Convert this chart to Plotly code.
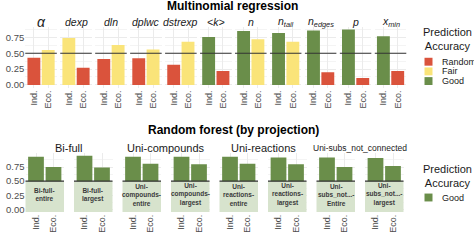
import plotly.graph_objects as go

# ---------------- data ----------------
top_facets = ["<i>α</i>", "<i>dexp</i>", "<i>dln</i>", "<i>dplwc</i>", "<i>dstrexp</i>",
              "<i>&lt;k&gt;</i>", "<i>n</i>", "<i>n<sub>tail</sub></i>", "<i>n<sub>edges</sub></i>",
              "<i>p</i>", "<i>x<sub>min</sub></i>"]
top_ind = [0.43, 0.74, 0.41, 0.42, 0.32, 0.755, 0.85, 0.82, 0.86, 0.875, 0.77]
top_eco = [0.55, 0.27, 0.63, 0.56, 0.68, 0.22, 0.72, 0.68, 0.20, 0.11, 0.22]
top_ind_class = ["Random", "Fair", "Random", "Random", "Random", "Good", "Good", "Good", "Good", "Good", "Good"]
top_eco_class = ["Fair", "Random", "Fair", "Fair", "Fair", "Random", "Fair", "Fair", "Random", "Random", "Random"]

rf_groups = ["Bi-full", "Uni-compounds", "Uni-reactions", "Uni-subs_not_connected"]
rf_labels = ["Bi-full-<br>entire", "Bi-full-<br>largest",
             "Uni-<br>compounds-<br>entire", "Uni-<br>compounds-<br>largest",
             "Uni-<br>reactions-<br>entire", "Uni-<br>reactions-<br>largest",
             "Uni-<br>subs_not...-<br>Entire", "Uni-<br>subs_not...-<br>largest"]
rf_ind = [0.93, 0.95, 0.93, 0.93, 0.93, 0.92, 0.92, 0.91]
rf_eco = [0.75, 0.74, 0.81, 0.80, 0.81, 0.80, 0.75, 0.77]
rf_class = ["Good"] * 8

x_cats = ["Ind.", "Eco."]
classes = ["Random", "Fair", "Good"]
class_colors = {"Random": "#DA533C", "Fair": "#FAE479", "Good": "#6A8E4A"}

# ---------------- layout helpers ----------------
W, H = 474, 240
def px_x(p): return p / W
def px_y(p): return 1 - p / H

FONT = "Liberation Sans, Arial, sans-serif"
GRID = "#EBEBEB"
TICKC = "#4D4D4D"

fig = go.Figure()
layout = dict(width=W, height=H, margin=dict(l=0, r=0, t=0, b=0),
              paper_bgcolor="white", plot_bgcolor="white", showlegend=False,
              font=dict(family=FONT, color="#222"), bargap=0.1)
shapes, annots = [], []

top_range = [-0.044, 0.92]
bot_range = [-0.0475, 0.9975]
top_dom_y = [px_y(88.8), px_y(27)]
bot_dom_y = [px_y(214.7), px_y(155)]

def add_facet(idx, x0, w, ydom, yrng, ind, eco, cls, first):
    sfx = "" if idx == 1 else str(idx)
    fig.add_trace(go.Bar(x=x_cats, y=[ind, eco],
                         marker=dict(color=[class_colors[c] for c in cls], line=dict(width=0)),
                         xaxis="x" + sfx, yaxis="y" + sfx, hoverinfo="skip"))
    layout["xaxis" + sfx] = dict(domain=[px_x(x0), px_x(x0 + w)], anchor="y" + sfx,
                                 type="category", categoryarray=x_cats, range=[-0.6, 1.6],
                                 tickangle=-90, tickfont=dict(size=9, color=TICKC, family=FONT),
                                 showgrid=True, gridcolor=GRID, gridwidth=1, ticks="",
                                 showline=False, zeroline=False, fixedrange=True)
    layout["yaxis" + sfx] = dict(domain=ydom, anchor="x" + sfx, range=yrng,
                                 tickvals=[0, 0.25, 0.5, 0.75],
                                 ticktext=["0.00", "0.25", "0.50", "0.75"],
                                 showticklabels=first, tickfont=dict(size=9.5, color=TICKC, family=FONT),
                                 showgrid=True, gridcolor=GRID, gridwidth=1, zeroline=False,
                                 ticks="", showline=False, fixedrange=True,
                                 minor=dict(tickvals=[0.125, 0.375, 0.625, 0.875],
                                            showgrid=True, gridcolor="#F4F4F4", gridwidth=0.6))
    return sfx

# ---- top panel: multinomial regression ----
t_w, t_pitch, t_x0 = 31.5, 34.95, 25.3
for i in range(len(top_facets)):
    x0 = t_x0 + i * t_pitch
    sfx = add_facet(i + 1, x0, t_w, top_dom_y, top_range, top_ind[i], top_eco[i],
                    [top_ind_class[i], top_eco_class[i]], i == 0)
    shapes.append(dict(type="line", xref=f"x{sfx} domain", yref=f"y{sfx}",
                       x0=0, x1=1, y0=0.5, y1=0.5, line=dict(color="#333333", width=1.2)))
    fs = 14 if i == 0 else 10.5
    annots.append(dict(text=top_facets[i], x=px_x(x0 + t_w / 2), y=px_y(22),
                       xref="paper", yref="paper", showarrow=False, xanchor="center", yanchor="middle",
                       font=dict(size=fs, color="#1A1A1A", family=FONT)))

# ---- bottom panel: random forest ----
b_w, b_pitch, b_x0 = 38.5, 48.5, 25.5
n_top = len(top_facets)
for j in range(len(rf_ind)):
    x0 = b_x0 + j * b_pitch
    idx = n_top + j + 1
    sfx = add_facet(idx, x0, b_w, bot_dom_y, bot_range, rf_ind[j], rf_eco[j],
                    [rf_class[j], rf_class[j]], j == 0)
    shapes.append(dict(type="rect", xref=f"x{sfx} domain", yref=f"y{sfx}",
                       x0=0, x1=1, y0=bot_range[0], y1=0.5, layer="above",
                       fillcolor="#D7E3CD", line=dict(width=0)))
    shapes.append(dict(type="line", xref=f"x{sfx} domain", yref=f"y{sfx}",
                       x0=0, x1=1, y0=0.5, y1=0.5, layer="above",
                       line=dict(color="#333333", width=1.2)))
    annots.append(dict(text="<b>" + rf_labels[j] + "</b>", x=0.5, y=0.255,
                       xref=f"x{sfx} domain", yref=f"y{sfx}", showarrow=False,
                       xanchor="center", yanchor="middle",
                       font=dict(size=6.5, color="#3A3A3A", family=FONT)))

for g, name in enumerate(rf_groups):
    xa = b_x0 + 2 * g * b_pitch
    xb = xa + b_pitch + b_w
    fs = 8.5 if len(name) > 15 else 11
    annots.append(dict(text=name, x=px_x((xa + xb) / 2), y=px_y(149.5),
                       xref="paper", yref="paper", showarrow=False, xanchor="center", yanchor="middle",
                       font=dict(size=fs, color="#1A1A1A", family=FONT)))

# ---- titles ----
annots.append(dict(text="<b>Multinomial regression</b>", x=px_x(232), y=px_y(6.5),
                   xref="paper", yref="paper", showarrow=False, xanchor="center", yanchor="middle",
                   font=dict(size=12, color="#000", family=FONT)))
annots.append(dict(text="<b>Random forest (by projection)</b>", x=px_x(233), y=px_y(131.5),
                   xref="paper", yref="paper", showarrow=False, xanchor="center", yanchor="middle",
                   font=dict(size=12, color="#000", family=FONT)))

# ---- legends (manual keys) ----
def legend(title_y, items, first_item_y):
    annots.append(dict(text="Prediction<br>Accuracy", x=px_x(447), y=px_y(title_y),
                       xref="paper", yref="paper", showarrow=False, xanchor="center", yanchor="middle",
                       align="center", font=dict(size=11, color="#1A1A1A", family=FONT)))
    for k, c in enumerate(items):
        yc = first_item_y + k * 9.8
        shapes.append(dict(type="rect", xref="paper", yref="paper",
                           x0=px_x(424.5), x1=px_x(432.5), y0=px_y(yc + 4), y1=px_y(yc - 4),
                           fillcolor=class_colors[c], line=dict(width=0)))
        annots.append(dict(text=c, x=px_x(439.5), y=px_y(yc), xref="paper", yref="paper",
                           showarrow=False, xanchor="left", yanchor="middle",
                           font=dict(size=9, color="#1A1A1A", family=FONT)))

legend(39.5, classes, 62.5)
legend(178, ["Good"], 200)

layout["shapes"] = shapes
layout["annotations"] = annots
fig.update_layout(**layout)
fig.write_html("out.html")
